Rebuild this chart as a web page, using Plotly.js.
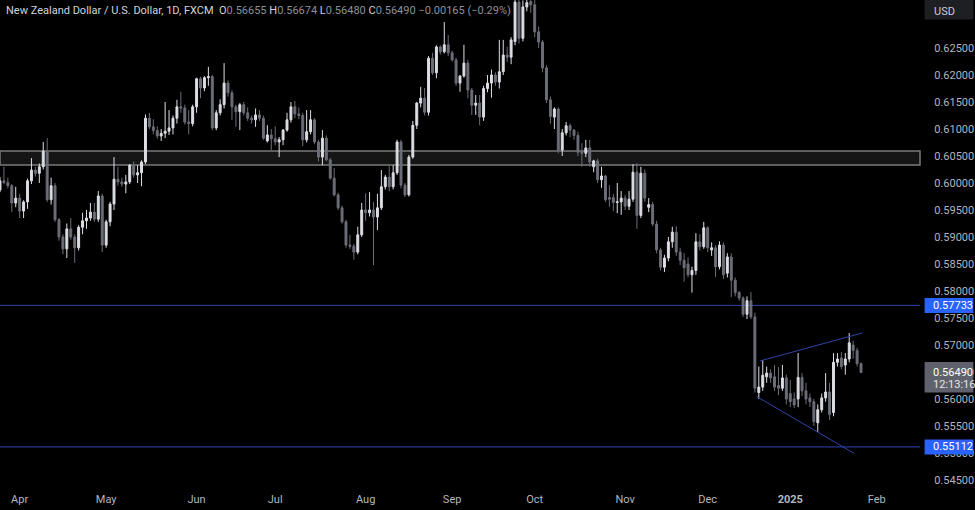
<!DOCTYPE html>
<html><head><meta charset="utf-8">
<script src="https://cdn.plot.ly/plotly-3.0.1.min.js"></script>
<style>html,body{margin:0;padding:0;background:#000;}#chart{width:975px;height:510px;}</style>
</head><body><div id="chart"></div>
<script>
// ---- data ----
const symbolTitle = 'New Zealand Dollar / U.S. Dollar, 1D, FXCM';
const startDate = '2024-03-25';
const holidays = ['2024-12-25', '2025-01-01'];
const open = [
0.5987,0.6004,0.6001,0.5995,0.5963,0.5972,0.5948,0.5965,0.6004,0.6024,
0.6018,0.6030,0.6059,0.5969,0.5995,0.5932,0.5900,0.5878,0.5915,0.5900,
0.5880,0.5918,0.5930,0.5935,0.5946,0.5933,0.5976,0.5885,0.5928,0.5961,
0.6007,0.6002,0.5998,0.6002,0.6033,0.6015,0.6019,0.6039,0.6120,0.6104,
0.6097,0.6087,0.6092,0.6096,0.6102,0.6120,0.6141,0.6139,0.6113,0.6110,
0.6141,0.6193,0.6176,0.6195,0.6197,0.6102,0.6130,0.6145,0.6185,0.6167,
0.6141,0.6132,0.6145,0.6130,0.6120,0.6117,0.6126,0.6120,0.6078,0.6089,
0.6082,0.6076,0.6080,0.6098,0.6117,0.6141,0.6128,0.6125,0.6080,0.6095,
0.6117,0.6076,0.6048,0.6083,0.6043,0.6009,0.5978,0.5954,0.5928,0.5885,
0.5883,0.5872,0.5904,0.5950,0.5945,0.5950,0.5937,0.5954,0.5993,0.6011,
0.5993,0.6019,0.6076,0.5996,0.5978,0.6048,0.6107,0.6148,0.6157,0.6131,
0.6231,0.6204,0.6252,0.6243,0.6256,0.6241,0.6228,0.6185,0.6198,0.6222,
0.6172,0.6144,0.6148,0.6122,0.6175,0.6185,0.6200,0.6187,0.6206,0.6237,
0.6233,0.6262,0.6335,0.6268,0.6326,0.6336,0.6330,0.6280,0.6261,0.6213,
0.6154,0.6122,0.6137,0.6061,0.6093,0.6106,0.6098,0.6088,0.6057,0.6055,
0.6065,0.6030,0.6041,0.6006,0.6013,0.5973,0.5973,0.5964,0.5965,0.5972,
0.5957,0.5970,0.6020,0.5940,0.6018,0.5955,0.5960,0.5924,0.5876,0.5844,
0.5861,0.5891,0.5909,0.5872,0.5857,0.5850,0.5830,0.5838,0.5891,0.5882,
0.5917,0.5876,0.5880,0.5845,0.5885,0.5833,0.5863,0.5820,0.5797,0.5787,
0.5757,0.5782,0.5752,0.5612,0.5622,0.5641,0.5648,0.5641,0.5625,0.5620,
0.5639,0.5610,0.5600,0.5600,0.5640,0.5615,0.5602,0.5595,0.5556,0.5580,
0.5602,0.5613,0.5575,0.5668,0.5676,0.5663,0.5674,0.5700,0.5690,0.56655];
const high = [
0.6011,0.6030,0.6010,0.5998,0.5993,0.5980,0.5968,0.6008,0.6046,0.6030,
0.6036,0.6076,0.6083,0.6010,0.6000,0.5935,0.5905,0.5925,0.5935,0.5905,
0.5922,0.5945,0.5950,0.5963,0.5963,0.5985,0.5980,0.5932,0.5965,0.6048,
0.6030,0.6010,0.6015,0.6035,0.6040,0.6033,0.6042,0.6127,0.6130,0.6118,
0.6105,0.6100,0.6150,0.6135,0.6125,0.6154,0.6169,0.6145,0.6135,0.6145,
0.6195,0.6197,0.6198,0.6215,0.6200,0.6135,0.6155,0.6222,0.6190,0.6172,
0.6145,0.6148,0.6150,0.6140,0.6125,0.6138,0.6135,0.6125,0.6107,0.6100,
0.6105,0.6085,0.6100,0.6130,0.6150,0.6152,0.6140,0.6130,0.6135,0.6135,
0.6120,0.6080,0.6098,0.6088,0.6046,0.6028,0.5982,0.5958,0.5932,0.5904,
0.5887,0.5919,0.5963,0.5981,0.5983,0.5965,0.5980,0.6024,0.6015,0.6033,
0.6033,0.6080,0.6080,0.6000,0.6052,0.6115,0.6150,0.6178,0.6176,0.6235,
0.6241,0.6255,0.6255,0.6298,0.6274,0.6245,0.6232,0.6200,0.6256,0.6228,
0.6176,0.6163,0.6163,0.6180,0.6200,0.6210,0.6205,0.6265,0.6265,0.6252,
0.6270,0.6345,0.6342,0.6338,0.6345,0.6380,0.6345,0.6290,0.6265,0.6218,
0.6160,0.6140,0.6140,0.6100,0.6113,0.6110,0.6100,0.6095,0.6074,0.6080,
0.6080,0.6043,0.6045,0.6030,0.6015,0.5996,0.5980,0.6000,0.5985,0.5978,
0.5985,0.6035,0.6037,0.6030,0.6025,0.5972,0.5965,0.5930,0.5880,0.5867,
0.5900,0.5919,0.5920,0.5880,0.5870,0.5862,0.5845,0.5907,0.5905,0.5928,
0.5920,0.5890,0.5885,0.5892,0.5890,0.5870,0.5870,0.5825,0.5800,0.5790,
0.5790,0.5798,0.5760,0.5660,0.5672,0.5660,0.5655,0.5663,0.5659,0.5663,
0.5645,0.5635,0.5612,0.5685,0.5648,0.5630,0.5610,0.5600,0.5590,0.5610,
0.5648,0.5630,0.5685,0.5685,0.5687,0.5685,0.5722,0.5708,0.5695,0.56674];
const low = [
0.5983,0.5998,0.5990,0.5946,0.5955,0.5935,0.5935,0.5952,0.5998,0.6012,
0.6000,0.6025,0.5965,0.5960,0.5928,0.5893,0.5868,0.5861,0.5895,0.5852,
0.5875,0.5905,0.5915,0.5930,0.5928,0.5928,0.5872,0.5880,0.5920,0.5950,
0.5995,0.5993,0.5981,0.5998,0.6010,0.6000,0.5994,0.6035,0.6100,0.6090,
0.6082,0.6078,0.6083,0.6089,0.6090,0.6110,0.6130,0.6108,0.6090,0.6105,
0.6130,0.6157,0.6170,0.6180,0.6098,0.6098,0.6125,0.6138,0.6160,0.6117,
0.6104,0.6098,0.6125,0.6115,0.6110,0.6104,0.6115,0.6080,0.6075,0.6061,
0.6070,0.6048,0.6070,0.6095,0.6112,0.6120,0.6118,0.6068,0.6075,0.6090,
0.6072,0.6040,0.6033,0.6040,0.6006,0.5975,0.5950,0.5925,0.5880,0.5878,
0.5858,0.5868,0.5900,0.5930,0.5938,0.5848,0.5913,0.5950,0.5988,0.5985,
0.5988,0.6015,0.5990,0.5974,0.5975,0.6045,0.6100,0.6140,0.6125,0.6125,
0.6200,0.6194,0.6238,0.6240,0.6235,0.6225,0.6180,0.6169,0.6195,0.6157,
0.6126,0.6126,0.6107,0.6115,0.6168,0.6158,0.6180,0.6175,0.6200,0.6224,
0.6220,0.6255,0.6258,0.6262,0.6318,0.6315,0.6270,0.6250,0.6205,0.6148,
0.6110,0.6100,0.6055,0.6050,0.6088,0.6085,0.6080,0.6050,0.6030,0.6048,
0.6030,0.6020,0.6000,0.5991,0.5965,0.5956,0.5948,0.5944,0.5941,0.5950,
0.5950,0.5965,0.5915,0.5935,0.5965,0.5946,0.5920,0.5870,0.5838,0.5835,
0.5855,0.5880,0.5865,0.5848,0.5817,0.5825,0.5797,0.5830,0.5875,0.5878,
0.5872,0.5865,0.5826,0.5840,0.5822,0.5825,0.5789,0.5790,0.5782,0.5752,
0.5748,0.5748,0.5612,0.5600,0.5615,0.5630,0.5630,0.5615,0.5607,0.5615,
0.5590,0.5585,0.5583,0.5585,0.5605,0.5590,0.5585,0.5550,0.5539,0.5575,
0.5595,0.5561,0.5568,0.5660,0.5655,0.5645,0.5668,0.5675,0.5660,0.56480];
const close = [
0.6004,0.6001,0.5995,0.5963,0.5972,0.5948,0.5965,0.6004,0.6024,0.6018,
0.6030,0.6059,0.5969,0.5995,0.5932,0.5900,0.5878,0.5915,0.5900,0.5880,
0.5918,0.5930,0.5935,0.5946,0.5933,0.5976,0.5885,0.5928,0.5961,0.6007,
0.6002,0.5998,0.6002,0.6033,0.6015,0.6019,0.6039,0.6120,0.6104,0.6097,
0.6087,0.6092,0.6096,0.6102,0.6120,0.6141,0.6139,0.6113,0.6110,0.6141,
0.6193,0.6176,0.6195,0.6197,0.6102,0.6130,0.6145,0.6185,0.6167,0.6141,
0.6132,0.6145,0.6130,0.6120,0.6117,0.6126,0.6120,0.6083,0.6089,0.6082,
0.6076,0.6080,0.6098,0.6117,0.6141,0.6128,0.6125,0.6080,0.6095,0.6117,
0.6076,0.6048,0.6083,0.6043,0.6009,0.5978,0.5954,0.5928,0.5885,0.5883,
0.5872,0.5904,0.5950,0.5945,0.5950,0.5937,0.5954,0.5993,0.6011,0.5993,
0.6019,0.6076,0.5996,0.5978,0.6048,0.6107,0.6148,0.6157,0.6131,0.6231,
0.6204,0.6252,0.6243,0.6256,0.6241,0.6228,0.6185,0.6198,0.6222,0.6172,
0.6144,0.6148,0.6122,0.6175,0.6185,0.6200,0.6187,0.6206,0.6237,0.6233,
0.6265,0.6335,0.6268,0.6326,0.6334,0.6330,0.6280,0.6261,0.6213,0.6154,
0.6123,0.6137,0.6061,0.6093,0.6106,0.6098,0.6088,0.6057,0.6055,0.6065,
0.6039,0.6041,0.6006,0.6013,0.5969,0.5970,0.5964,0.5965,0.5972,0.5957,
0.5970,0.6020,0.5940,0.6018,0.5972,0.5960,0.5924,0.5876,0.5844,0.5861,
0.5891,0.5909,0.5872,0.5857,0.5843,0.5830,0.5838,0.5891,0.5882,0.5917,
0.5880,0.5880,0.5845,0.5885,0.5830,0.5863,0.5820,0.5797,0.5787,0.5757,
0.5782,0.5752,0.5620,0.5622,0.5644,0.5648,0.5639,0.5622,0.5620,0.5639,
0.5600,0.5595,0.5589,0.5640,0.5615,0.5600,0.5595,0.5558,0.5580,0.5602,
0.5613,0.5571,0.5668,0.5674,0.5660,0.5674,0.5704,0.5690,0.56655,0.56490];

const zoneBand = [0.60333, 0.60593];          // grey horizontal zone
const levels = [0.57733, 0.55112];            // blue horizontal levels
const countdown = '12:13:16';
const trendUpperX = ['2024-12-19 07:00', '2025-01-28 07:00'];
const trendUpperY = [0.56704, 0.57222];
const trendLowerX = ['2024-12-18 12:00', '2025-01-24 05:00'];
const trendLowerY = [0.56043, 0.54994];
const monthTickVals = ['2024-04-01','2024-05-01','2024-06-03','2024-07-01','2024-08-01','2024-09-02','2024-10-01','2024-11-01','2024-12-02','2025-01-02','2025-02-03'];
const monthTickText = ['Apr','May','Jun','Jul','Aug','Sep','Oct','Nov','Dec','<b>2025</b>','Feb'];
const priceTicks = [0.545,0.550,0.555,0.560,0.565,0.570,0.575,0.580,0.585,0.590,0.595,0.600,0.605,0.610,0.615,0.620,0.625];

// trading-day calendar (weekdays, minus market holidays)
function tradingDays(start, n, skip) {
  const out = []; const d = new Date(start + 'T00:00:00Z');
  while (out.length < n) {
    const dow = d.getUTCDay(); const s = d.toISOString().slice(0, 10);
    if (dow !== 0 && dow !== 6 && skip.indexOf(s) < 0) out.push(s);
    d.setUTCDate(d.getUTCDate() + 1);
  }
  return out;
}
const dates = tradingDays(startDate, open.length, holidays);

const UP = '#dcdee4', DOWN = '#6b6e78', BLUE_LINE = '#2d43b0', BLUE_BOX = '#2962ff';
const FONT = 'Roboto, "Liberation Sans", sans-serif';

const n = close.length;
const chg = close[n-1] - close[n-2];
const pct = chg / close[n-2] * 100;
const G = s => '<span style="color:#8d909a">' + s + '</span>';
const sp = ' ';
const titleText = symbolTitle + '\u00a0\u00a0' + 'O' + G(open[n-1].toFixed(5)) + sp + 'H' + G(high[n-1].toFixed(5)) + sp +
  'L' + G(low[n-1].toFixed(5)) + sp + 'C' + G(close[n-1].toFixed(5)) + sp +
  G((chg < 0 ? '\u2212' : '+') + Math.abs(chg).toFixed(5) + ' (' + (pct < 0 ? '\u2212' : '+') + Math.abs(pct).toFixed(2) + '%)');

const traces = [
  {type: 'candlestick', x: dates, open: open, high: high, low: low, close: close,
   increasing: {line: {color: UP, width: 1}, fillcolor: UP},
   decreasing: {line: {color: DOWN, width: 1}, fillcolor: DOWN},
   whiskerwidth: 0, hoverinfo: 'skip'},
  {type: 'scatter', mode: 'lines', x: trendUpperX, y: trendUpperY, line: {color: '#3044a8', width: 1}, hoverinfo: 'skip'},
  {type: 'scatter', mode: 'lines', x: trendLowerX, y: trendLowerY, line: {color: '#3044a8', width: 1}, hoverinfo: 'skip'}
];

const shapes = [
  {type: 'rect', xref: 'paper', x0: 0, x1: 1, yref: 'y', y0: zoneBand[0], y1: zoneBand[1],
   fillcolor: '#151515', line: {color: '#7a7a7a', width: 1.5}, layer: 'below'}
];
levels.forEach(v => shapes.push({type: 'line', xref: 'paper', x0: 0, x1: 1, yref: 'y', y0: v, y1: v,
  line: {color: BLUE_LINE, width: 1}, layer: 'below'}));
levels.forEach(v => shapes.push({type: 'rect', xref: 'paper', x0: 1.005, x1: 1.058, yref: 'y', ysizemode: 'pixel',
  yanchor: v, y0: -7.5, y1: 7.5, fillcolor: BLUE_BOX, line: {width: 0}}));
shapes.push({type: 'rect', xref: 'paper', x0: 1.005, x1: 1.058, yref: 'y', ysizemode: 'pixel',
  yanchor: close[n-1], y0: -20, y1: 10.5, fillcolor: '#5f626c', line: {width: 0}});
shapes.push({type: 'rect', xref: 'paper', x0: 1.005, x1: 1.058, yref: 'paper', y0: 0.96, y1: 1.0,
  fillcolor: '#1e1f22', line: {width: 0}});

const annotations = [
  {xref: 'paper', yref: 'paper', x: 0, y: 1, xanchor: 'left', yanchor: 'top', xshift: 4, yshift: -2,
   showarrow: false, text: titleText, font: {family: FONT, size: 11, color: '#d1d4dc'}},
  {xref: 'paper', yref: 'paper', x: 1, y: 1, xanchor: 'left', yanchor: 'top', xshift: 12, yshift: -3,
   showarrow: false, text: 'USD', font: {family: FONT, size: 11, color: '#c9ccd4'}},
  {xref: 'paper', yref: 'y', x: 1, y: close[n-1], xanchor: 'left', yanchor: 'middle', xshift: 11, yshift: 0,
   showarrow: false, text: close[n-1].toFixed(5), font: {family: FONT, size: 11, color: '#ffffff'}},
  {xref: 'paper', yref: 'y', x: 1, y: close[n-1], xanchor: 'left', yanchor: 'middle', xshift: 11, yshift: -12,
   showarrow: false, text: countdown, font: {family: FONT, size: 11, color: '#e6e6e6'}}
];
levels.forEach(v => annotations.push({xref: 'paper', yref: 'y', x: 1, y: v, xanchor: 'left', yanchor: 'middle',
  xshift: 11, showarrow: false, text: v.toFixed(5), font: {family: FONT, size: 11, color: '#ffffff'}}));

const layout = {
  width: 975, height: 510,
  paper_bgcolor: '#000000', plot_bgcolor: '#000000',
  margin: {l: 0, r: 55, t: 0, b: 25},
  showlegend: false, hovermode: false,
  font: {family: FONT, color: '#b2b5be', size: 11},
  xaxis: {type: 'date', range: ['2024-03-25', '2025-02-18'],
    rangebreaks: [{bounds: ['sat', 'mon']}, {values: holidays}],
    rangeslider: {visible: false},
    tickvals: monthTickVals, ticktext: monthTickText,
    showgrid: false, zeroline: false, showline: false, ticks: 'outside', ticklen: 4, tickcolor: 'rgba(0,0,0,0)',
    tickfont: {family: FONT, size: 11, color: '#b2b5be'}, fixedrange: true},
  yaxis: {side: 'right', range: [0.54407, 0.63389], tickvals: priceTicks, tickformat: '.5f',
    showgrid: false, zeroline: false, showline: false, ticks: 'outside', ticklen: 11, tickcolor: 'rgba(0,0,0,0)',
    tickfont: {family: FONT, size: 11, color: '#b2b5be'}, fixedrange: true},
  shapes: shapes, annotations: annotations
};

Plotly.newPlot('chart', traces, layout, {displayModeBar: false, staticPlot: true});
</script>
</body></html>
